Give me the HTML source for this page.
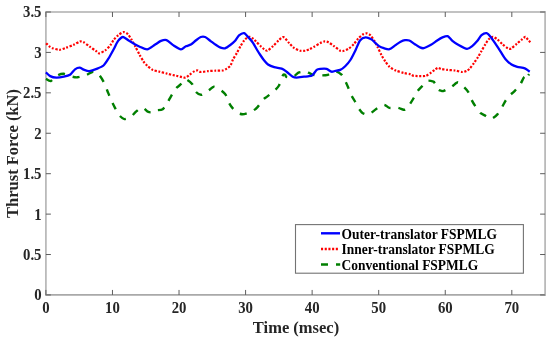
<!DOCTYPE html>
<html><head><meta charset="utf-8"><title>Thrust Force</title>
<style>html,body{margin:0;padding:0;background:#fff;overflow:hidden}svg{display:block}</style>
</head><body><svg width="550" height="339" viewBox="0 0 550 339"><rect x="45.65" y="12.00" width="499.20" height="282.95" fill="#fff" stroke="none"/><path d="M45.00,294.95H546.00" stroke="#a9a9a9" stroke-width="1.8"/><path d="M45.00,12.00H546.00" stroke="#c2c2c2" stroke-width="1.8"/><path d="M45.90,12.00V294.95" stroke="#bababa" stroke-width="1.8"/><path d="M545.10,12.00V294.95" stroke="#bababa" stroke-width="1.8"/><path d="M45.90,294.95V289.95M45.90,12.00V17.00M112.46,294.95V289.95M112.46,12.00V17.00M179.02,294.95V289.95M179.02,12.00V17.00M245.58,294.95V289.95M245.58,12.00V17.00M312.14,294.95V289.95M312.14,12.00V17.00M378.70,294.95V289.95M378.70,12.00V17.00M445.26,294.95V289.95M445.26,12.00V17.00M511.82,294.95V289.95M511.82,12.00V17.00M45.90,294.95H50.90M545.10,294.95H540.10M45.90,254.53H50.90M545.10,254.53H540.10M45.90,214.11H50.90M545.10,214.11H540.10M45.90,173.69H50.90M545.10,173.69H540.10M45.90,133.26H50.90M545.10,133.26H540.10M45.90,92.84H50.90M545.10,92.84H540.10M45.90,52.42H50.90M545.10,52.42H540.10M45.90,12.00H50.90M545.10,12.00H540.10" stroke="#5e5e5e" stroke-width="1" fill="none"/><path d="M45.90,78.80C46.49,79.06 49.40,81.41 50.80,81.00C52.20,80.59 56.04,76.26 57.60,75.40C59.16,74.54 62.01,73.64 63.80,73.80C65.59,73.96 70.86,76.28 72.50,76.70C74.14,77.12 75.87,77.48 77.50,77.30C79.13,77.12 84.24,75.87 86.10,75.20C87.96,74.53 91.51,71.82 93.00,71.70C94.49,71.58 97.24,73.01 98.50,74.20C99.76,75.39 102.31,79.30 103.50,81.60C104.69,83.90 107.39,90.99 108.40,93.40C109.41,95.81 111.11,99.96 111.90,101.70C112.69,103.44 114.18,106.34 115.00,107.90C115.82,109.46 117.58,113.36 118.70,114.70C119.82,116.04 122.81,118.87 124.30,119.10C125.79,119.33 129.70,117.50 131.10,116.60C132.50,115.70 134.67,112.72 136.00,111.60C137.33,110.48 140.78,107.30 142.20,107.30C143.62,107.30 146.68,111.00 147.80,111.60C148.92,112.20 150.54,112.44 151.50,112.30C152.46,112.16 154.46,110.77 155.80,110.40C157.14,110.03 161.28,110.17 162.70,109.20C164.12,108.23 166.64,103.79 167.60,102.30C168.56,100.81 169.73,98.43 170.70,96.80C171.67,95.17 174.55,90.15 175.70,88.70C176.85,87.25 179.15,85.84 180.30,84.70C181.45,83.56 183.88,79.27 185.30,79.20C186.72,79.13 190.84,82.59 192.10,84.10C193.36,85.61 194.68,90.52 195.80,91.80C196.92,93.08 199.84,94.98 201.40,94.80C202.96,94.62 207.31,91.27 208.80,90.30C210.29,89.33 212.38,86.74 213.80,86.70C215.22,86.66 219.18,89.04 220.60,90.00C222.02,90.96 224.63,93.22 225.60,94.70C226.57,96.18 227.88,100.72 228.70,102.30C229.52,103.88 231.21,106.58 232.40,107.90C233.59,109.22 237.18,112.56 238.60,113.30C240.02,114.04 242.53,114.38 244.20,114.10C245.87,113.82 250.90,111.84 252.50,111.00C254.10,110.16 256.23,108.47 257.50,107.10C258.77,105.73 261.91,100.88 263.10,99.60C264.29,98.32 266.07,97.43 267.40,96.40C268.73,95.37 272.81,92.31 274.20,91.00C275.59,89.69 277.96,87.37 279.00,85.50C280.04,83.63 282.16,76.68 282.90,75.40C283.64,74.12 284.79,74.63 285.20,74.80C285.61,74.97 285.39,76.50 286.30,76.80C287.21,77.10 291.35,77.80 292.80,77.30C294.25,76.80 296.77,73.31 298.40,72.60C300.03,71.89 305.25,71.44 306.40,71.40C307.55,71.36 307.29,71.92 308.00,72.30C308.71,72.68 310.81,74.23 312.30,74.60C313.79,74.97 318.54,75.38 320.40,75.40C322.26,75.42 326.01,75.32 327.80,74.80C329.59,74.28 333.66,71.12 335.30,71.10C336.94,71.08 340.31,73.41 341.50,74.60C342.69,75.79 344.38,79.42 345.20,81.00C346.02,82.58 347.56,86.06 348.30,87.80C349.04,89.54 350.58,93.83 351.40,95.50C352.22,97.17 354.21,100.14 355.10,101.70C355.99,103.26 357.91,107.16 358.80,108.50C359.69,109.84 361.46,112.16 362.50,112.90C363.54,113.64 366.46,114.70 367.50,114.70C368.54,114.70 370.16,113.58 371.20,112.90C372.24,112.22 374.68,109.97 376.20,109.00C377.72,108.03 382.30,104.93 383.90,104.80C385.50,104.67 387.87,107.56 389.50,107.90C391.13,108.24 395.80,107.37 397.50,107.60C399.20,107.83 402.58,109.69 403.70,109.80C404.82,109.91 406.06,109.17 406.80,108.50C407.54,107.83 409.07,105.46 409.90,104.20C410.73,102.94 412.82,99.54 413.70,98.00C414.58,96.46 416.24,92.77 417.20,91.40C418.16,90.03 420.49,87.87 421.70,86.60C422.91,85.33 425.88,81.40 427.30,80.80C428.72,80.20 432.61,81.30 433.50,81.60C434.39,81.90 434.11,82.32 434.70,83.30C435.29,84.28 437.54,88.88 438.40,89.80C439.26,90.72 441.26,90.87 441.90,91.00C442.54,91.13 442.51,91.43 443.70,90.90C444.89,90.37 450.08,87.63 451.80,86.60C453.52,85.57 456.51,82.23 458.00,82.30C459.49,82.37 462.94,86.00 464.20,87.20C465.46,88.40 467.61,90.78 468.50,92.30C469.39,93.82 470.78,98.24 471.60,99.90C472.42,101.56 474.26,104.54 475.30,106.10C476.34,107.66 479.04,111.71 480.30,112.90C481.56,114.09 484.70,115.33 485.80,116.00C486.90,116.67 488.67,118.24 489.50,118.50C490.33,118.76 491.73,118.73 492.70,118.20C493.67,117.67 496.48,115.41 497.60,114.10C498.72,112.79 501.03,108.93 502.00,107.30C502.97,105.67 504.75,101.94 505.70,100.50C506.65,99.06 508.81,96.45 509.90,95.30C510.99,94.15 513.54,92.24 514.80,90.90C516.06,89.56 519.28,85.73 520.40,84.10C521.52,82.47 523.06,78.49 524.10,77.30C525.14,76.11 528.50,74.57 529.10,74.20" fill="none" stroke="#007f00" stroke-width="2.4" stroke-dasharray="7 8" stroke-linejoin="round"/><path d="M528.3,75.4L529.1,74.2" stroke="#007f00" stroke-width="2.4" fill="none"/><path d="M46.20,43.30C46.54,43.64 48.22,45.51 49.00,46.10C49.78,46.69 51.44,47.76 52.70,48.20C53.96,48.64 57.87,49.86 59.50,49.80C61.13,49.74 64.60,48.30 66.30,47.70C68.00,47.10 72.07,45.54 73.70,44.80C75.33,44.06 78.70,41.80 79.90,41.50C81.10,41.20 82.51,41.68 83.70,42.30C84.89,42.92 88.32,45.66 89.80,46.70C91.28,47.74 94.88,50.21 96.00,51.00C97.12,51.79 97.98,53.37 99.10,53.30C100.22,53.23 103.93,51.40 105.30,50.40C106.67,49.40 109.49,46.26 110.50,45.00C111.51,43.74 112.79,41.06 113.70,39.90C114.61,38.74 116.91,36.24 118.10,35.30C119.29,34.36 122.41,32.22 123.60,32.10C124.79,31.98 127.03,33.36 128.00,34.30C128.97,35.24 130.81,38.41 131.70,39.90C132.59,41.39 134.44,44.89 135.40,46.70C136.36,48.51 138.73,53.22 139.70,55.00C140.67,56.78 142.60,60.22 143.50,61.50C144.40,62.78 146.08,64.69 147.20,65.70C148.32,66.71 151.31,69.18 152.80,69.90C154.29,70.62 157.90,71.26 159.60,71.70C161.30,72.14 165.22,73.16 167.00,73.60C168.78,74.04 173.09,75.10 174.40,75.40C175.71,75.70 176.59,75.82 177.90,76.10C179.21,76.38 183.90,77.86 185.30,77.70C186.70,77.54 188.48,75.59 189.60,74.80C190.72,74.01 193.63,71.62 194.60,71.10C195.57,70.58 196.96,70.39 197.70,70.50C198.44,70.61 199.54,71.93 200.80,72.00C202.06,72.07 206.41,71.26 208.20,71.10C209.99,70.94 213.98,70.77 215.70,70.70C217.42,70.63 221.17,70.75 222.50,70.50C223.83,70.25 225.84,69.20 226.80,68.60C227.76,68.00 229.76,66.59 230.50,65.50C231.24,64.41 232.23,61.01 233.00,59.50C233.77,57.99 236.00,54.50 236.90,52.90C237.80,51.30 239.64,47.69 240.50,46.20C241.36,44.71 243.30,41.53 244.10,40.50C244.90,39.47 246.52,38.03 247.20,37.60C247.88,37.17 249.06,36.74 249.80,36.90C250.54,37.06 252.66,38.35 253.40,38.90C254.14,39.45 255.06,40.56 256.00,41.50C256.94,42.44 260.20,45.76 261.20,46.70C262.20,47.64 263.56,48.82 264.30,49.30C265.04,49.78 266.36,51.08 267.40,50.70C268.44,50.32 271.66,47.32 273.00,46.10C274.34,44.88 277.34,41.58 278.60,40.50C279.86,39.42 282.24,36.80 283.50,37.10C284.76,37.40 287.84,41.70 289.10,43.00C290.36,44.30 292.67,46.98 294.00,47.90C295.33,48.82 298.86,50.36 300.20,50.70C301.54,51.04 304.08,50.88 305.20,50.70C306.32,50.52 308.42,49.68 309.50,49.20C310.58,48.72 312.89,47.44 314.20,46.70C315.51,45.96 319.14,43.64 320.40,43.00C321.66,42.36 323.74,41.48 324.70,41.40C325.66,41.32 327.28,41.74 328.40,42.30C329.52,42.86 332.58,45.09 334.00,46.10C335.42,47.11 339.01,50.14 340.20,50.70C341.39,51.26 342.86,51.06 343.90,50.80C344.94,50.54 347.71,49.29 348.90,48.50C350.09,47.71 352.68,45.39 353.80,44.20C354.92,43.01 357.08,39.79 358.20,38.60C359.32,37.41 362.06,34.92 363.10,34.30C364.14,33.68 366.00,33.26 366.90,33.40C367.80,33.54 369.69,34.59 370.60,35.50C371.51,36.41 373.65,39.58 374.50,41.00C375.35,42.42 376.87,45.63 377.70,47.30C378.53,48.97 380.50,53.22 381.40,54.90C382.30,56.58 384.23,59.87 385.20,61.30C386.17,62.73 388.24,65.70 389.50,66.80C390.76,67.90 394.00,69.76 395.70,70.50C397.40,71.24 401.91,72.56 403.70,73.00C405.49,73.44 409.40,73.86 410.60,74.20C411.80,74.54 412.44,75.57 413.70,75.80C414.96,76.03 419.62,76.10 421.10,76.10C422.58,76.10 424.81,76.21 426.00,75.80C427.19,75.39 429.96,73.41 431.00,72.70C432.04,71.99 433.88,70.49 434.70,69.90C435.52,69.31 436.98,67.91 437.80,67.80C438.62,67.69 440.35,68.75 441.50,69.00C442.65,69.25 445.79,69.72 447.40,69.90C449.01,70.08 453.11,70.25 454.90,70.50C456.69,70.75 460.90,71.95 462.30,72.00C463.70,72.05 465.71,71.31 466.60,70.90C467.49,70.49 468.81,69.55 469.70,68.60C470.59,67.65 473.00,64.39 474.00,63.00C475.00,61.61 477.10,58.44 478.00,57.00C478.90,55.56 480.60,52.56 481.50,51.00C482.40,49.44 484.60,45.44 485.50,44.00C486.40,42.56 488.10,39.86 489.00,39.00C489.90,38.14 491.98,36.74 493.00,36.80C494.02,36.86 496.36,38.61 497.50,39.50C498.64,40.39 501.24,43.12 502.50,44.20C503.76,45.28 506.97,47.98 508.00,48.50C509.03,49.02 510.06,49.06 511.10,48.50C512.14,47.94 515.43,44.87 516.70,43.80C517.97,42.73 520.66,40.44 521.70,39.60C522.74,38.76 524.67,36.80 525.40,36.80C526.13,36.80 527.21,38.94 527.80,39.60C528.39,40.26 530.00,41.98 530.30,42.30" fill="none" stroke="#ff0000" stroke-width="2.2" stroke-dasharray="2.1 1.6" stroke-linejoin="round"/><path d="M45.90,72.30C46.42,72.76 48.94,75.46 50.20,76.10C51.46,76.74 54.77,77.53 56.40,77.60C58.03,77.67 62.17,77.04 63.80,76.70C65.43,76.36 68.66,75.69 70.00,74.80C71.34,73.91 73.84,70.16 75.00,69.30C76.16,68.44 78.66,67.56 79.70,67.60C80.74,67.64 82.56,69.18 83.70,69.60C84.84,70.02 87.57,71.22 89.20,71.10C90.83,70.98 95.58,69.27 97.30,68.60C99.02,67.93 102.17,66.69 103.50,65.50C104.83,64.31 107.18,60.66 108.40,58.70C109.62,56.74 112.54,51.34 113.70,49.20C114.86,47.06 116.98,42.36 118.10,40.90C119.22,39.44 121.74,37.05 123.00,37.00C124.26,36.95 127.18,39.64 128.60,40.50C130.02,41.36 133.47,43.46 134.80,44.20C136.13,44.94 138.21,46.08 139.70,46.70C141.19,47.32 145.39,49.63 147.20,49.40C149.01,49.17 153.14,45.82 154.80,44.80C156.46,43.78 159.60,41.46 161.00,40.90C162.40,40.34 165.00,39.56 166.50,40.10C168.00,40.64 171.76,44.28 173.50,45.40C175.24,46.52 179.51,49.29 181.00,49.40C182.49,49.51 184.71,46.88 185.90,46.30C187.09,45.72 189.71,45.30 190.90,44.60C192.09,43.90 194.61,41.41 195.80,40.50C196.99,39.59 199.68,37.42 200.80,37.00C201.92,36.58 203.91,36.51 205.10,37.00C206.29,37.49 209.43,40.16 210.70,41.10C211.97,42.04 214.51,44.01 215.70,44.80C216.89,45.59 219.48,47.28 220.60,47.70C221.72,48.12 223.84,48.62 225.00,48.30C226.16,47.98 229.11,45.88 230.30,45.00C231.49,44.12 233.86,42.15 234.90,41.00C235.94,39.85 237.90,36.35 239.00,35.40C240.10,34.45 242.96,32.86 244.10,33.10C245.24,33.34 247.43,36.24 248.50,37.40C249.57,38.56 252.00,41.35 253.00,42.80C254.00,44.25 255.92,48.04 256.80,49.50C257.68,50.96 259.46,53.74 260.30,55.00C261.14,56.26 262.88,58.86 263.80,60.00C264.72,61.14 266.75,63.64 268.00,64.50C269.25,65.36 272.56,66.71 274.20,67.20C275.84,67.69 280.21,68.06 281.70,68.60C283.19,69.14 285.27,70.73 286.60,71.70C287.93,72.67 291.61,75.99 292.80,76.70C293.99,77.41 295.16,77.60 296.50,77.60C297.84,77.60 302.62,76.86 304.00,76.70C305.38,76.54 307.00,76.46 308.00,76.30C309.00,76.14 311.26,76.17 312.30,75.40C313.34,74.63 315.73,70.68 316.70,69.90C317.67,69.12 319.21,69.02 320.40,68.90C321.59,68.78 325.27,68.56 326.60,68.90C327.93,69.24 330.46,71.46 331.50,71.70C332.54,71.94 334.26,71.12 335.30,70.90C336.34,70.68 339.01,70.46 340.20,69.90C341.39,69.34 343.98,67.39 345.20,66.20C346.42,65.01 349.14,61.97 350.40,60.00C351.66,58.03 354.55,52.14 355.70,49.80C356.85,47.46 358.81,41.99 360.00,40.50C361.19,39.01 364.26,37.54 365.60,37.40C366.94,37.26 370.13,38.74 371.20,39.30C372.27,39.86 373.56,41.28 374.50,42.10C375.44,42.92 377.87,45.37 379.00,46.10C380.13,46.83 382.64,47.83 383.90,48.20C385.16,48.57 388.16,49.54 389.50,49.20C390.84,48.86 393.77,46.30 395.10,45.40C396.43,44.50 399.41,42.32 400.60,41.70C401.79,41.08 403.96,40.34 405.00,40.20C406.04,40.06 408.11,40.02 409.30,40.50C410.49,40.98 413.64,43.38 414.90,44.20C416.16,45.02 418.76,46.82 419.80,47.30C420.84,47.78 422.26,48.50 423.60,48.20C424.94,47.90 429.37,45.72 431.00,44.80C432.63,43.88 435.82,41.39 437.20,40.50C438.58,39.61 441.24,37.92 442.50,37.40C443.76,36.88 446.51,35.78 447.70,36.20C448.89,36.62 451.09,39.83 452.40,40.90C453.71,41.97 456.85,44.14 458.60,45.10C460.35,46.06 465.37,48.78 467.00,48.90C468.63,49.02 470.98,47.04 472.20,46.10C473.42,45.16 476.08,42.41 477.20,41.10C478.32,39.79 480.37,36.16 481.50,35.20C482.63,34.24 485.45,32.84 486.60,33.10C487.75,33.36 490.01,36.07 491.10,37.40C492.19,38.73 494.56,42.50 495.70,44.20C496.84,45.90 499.39,49.76 500.60,51.60C501.81,53.44 504.49,57.95 505.80,59.50C507.11,61.05 510.12,63.62 511.50,64.50C512.88,65.38 515.70,66.33 517.30,66.80C518.90,67.27 523.31,67.81 524.80,68.40C526.29,68.99 529.11,71.30 529.70,71.70" fill="none" stroke="#0000ff" stroke-width="2.3" stroke-linejoin="round"/><g font-family="'Liberation Serif','Times New Roman',serif" font-weight="bold" font-size="15.7" fill="#262626"><text transform="translate(45.90,313.2) scale(0.94,1)" text-anchor="middle">0</text><text transform="translate(112.46,313.2) scale(0.94,1)" text-anchor="middle">10</text><text transform="translate(179.02,313.2) scale(0.94,1)" text-anchor="middle">20</text><text transform="translate(245.58,313.2) scale(0.94,1)" text-anchor="middle">30</text><text transform="translate(312.14,313.2) scale(0.94,1)" text-anchor="middle">40</text><text transform="translate(378.70,313.2) scale(0.94,1)" text-anchor="middle">50</text><text transform="translate(445.26,313.2) scale(0.94,1)" text-anchor="middle">60</text><text transform="translate(511.82,313.2) scale(0.94,1)" text-anchor="middle">70</text><text transform="translate(41.5,300.35) scale(0.94,1)" text-anchor="end">0</text><text transform="translate(41.5,259.93) scale(0.94,1)" text-anchor="end">0.5</text><text transform="translate(41.5,219.51) scale(0.94,1)" text-anchor="end">1</text><text transform="translate(41.5,179.09) scale(0.94,1)" text-anchor="end">1.5</text><text transform="translate(41.5,138.66) scale(0.94,1)" text-anchor="end">2</text><text transform="translate(41.5,98.24) scale(0.94,1)" text-anchor="end">2.5</text><text transform="translate(41.5,57.82) scale(0.94,1)" text-anchor="end">3</text><text transform="translate(41.5,17.40) scale(0.94,1)" text-anchor="end">3.5</text></g><text x="296" y="332.7" text-anchor="middle" font-family="'Liberation Serif','Times New Roman',serif" font-weight="bold" font-size="16.5" fill="#262626">Time (msec)</text><text transform="translate(17.7,153.5) rotate(-90)" text-anchor="middle" font-family="'Liberation Serif','Times New Roman',serif" font-weight="bold" font-size="16.5" fill="#262626">Thrust Force (kN)</text><rect x="295.5" y="224.6" width="227.9" height="48.6" fill="#fff" stroke="#737373" stroke-width="1.1"/><line x1="321" y1="233.3" x2="340" y2="233.3" stroke="#0000ff" stroke-width="2.4"/><text transform="translate(341.6,238.6) scale(0.9,1)" font-family="'Liberation Serif','Times New Roman',serif" font-weight="bold" font-size="15" fill="#000">Outer-translator FSPMLG</text><line x1="321" y1="249.0" x2="338.6" y2="249.0" stroke="#ff0000" stroke-width="2.3" stroke-dasharray="2.1 1.6"/><text transform="translate(341.6,254.3) scale(0.9,1)" font-family="'Liberation Serif','Times New Roman',serif" font-weight="bold" font-size="15" fill="#000">Inner-translator FSPMLG</text><line x1="321" y1="264.5" x2="340.2" y2="264.5" stroke="#007f00" stroke-width="2.4" stroke-dasharray="7 8"/><text transform="translate(341.6,269.8) scale(0.9,1)" font-family="'Liberation Serif','Times New Roman',serif" font-weight="bold" font-size="15" fill="#000">Conventional FSPMLG</text></svg></body></html>
